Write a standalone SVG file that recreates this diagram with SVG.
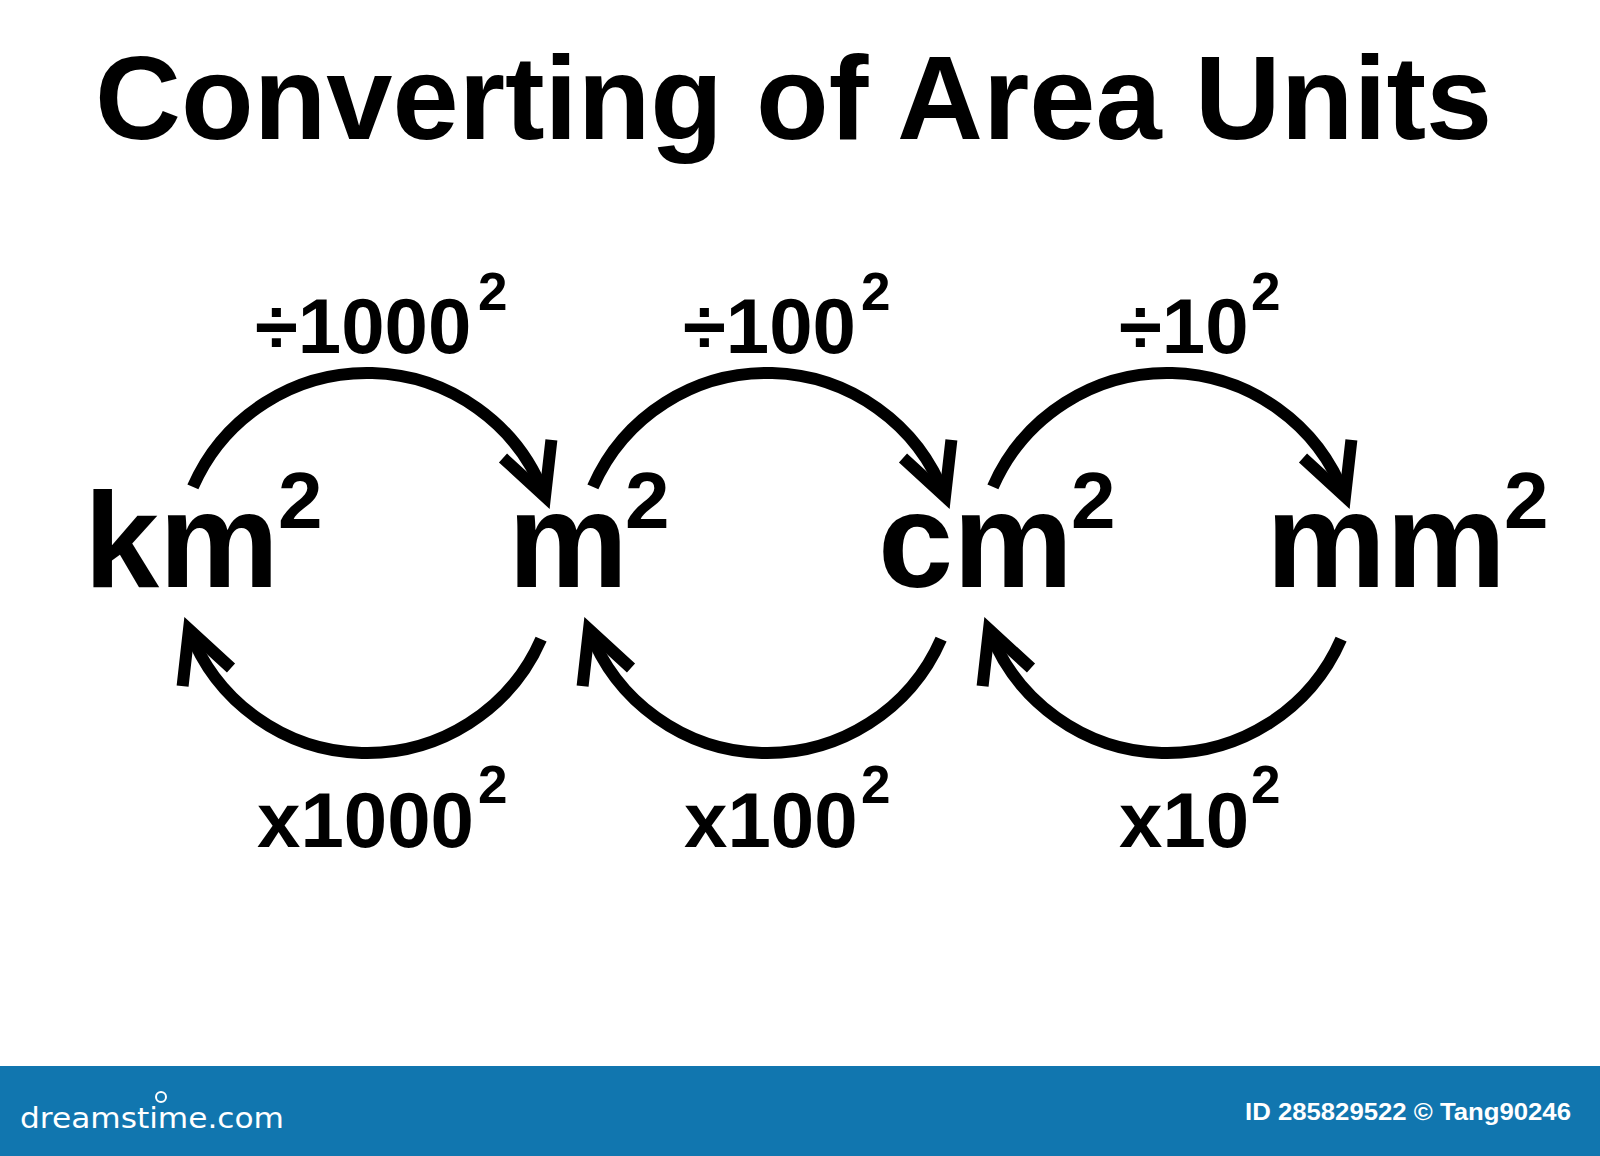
<svg xmlns="http://www.w3.org/2000/svg" width="1600" height="1156" viewBox="0 0 1600 1156">
<style>
.t{font-family:"Liberation Sans",Arial,sans-serif;font-weight:bold;fill:#000}
.u{font-size:135px}
.us{font-size:80px}
.l{font-size:78px}
.ls{font-size:53px}
.c{fill:none;stroke:#000;stroke-width:12;stroke-linecap:butt;stroke-linejoin:miter;stroke-miterlimit:10}
</style>
<rect width="1600" height="1156" fill="#fff"/>
<text class="t" x="95" y="139" font-size="119">Converting of Area Units</text>

<g id="node-km2"><text class="t u" x="84" y="587">km</text><text class="t us" x="278" y="528">2</text></g>
<g id="node-m2"><text class="t u" x="508" y="587">m</text><text class="t us" x="625" y="528">2</text></g>
<g id="node-cm2"><text class="t u" x="878" y="587">cm</text><text class="t us" x="1071" y="528">2</text></g>
<g id="node-mm2"><text class="t u" x="1266" y="587">mm</text><text class="t us" x="1504" y="528">2</text></g>

<g id="labels">
<text class="t l" x="255" y="353">÷1000</text><text class="t ls" x="478" y="310">2</text>
<text class="t l" x="683" y="353">÷100</text><text class="t ls" x="861" y="310">2</text>
<text class="t l" x="1119" y="353">÷10</text><text class="t ls" x="1251" y="310">2</text>
<text class="t l" x="257" y="847">x1000</text><text class="t ls" x="478" y="803">2</text>
<text class="t l" x="684" y="847">x100</text><text class="t ls" x="861" y="803">2</text>
<text class="t l" x="1119" y="847">x10</text><text class="t ls" x="1251" y="803">2</text>
</g>

<g id="connectors">
<g id="pair1">
<path class="c" d="M192.9 486.9 A190 190 0 0 1 545 496.5"/>
<path class="c" d="M551.4 439.8 L545 496.5 L503 458"/>
<path class="c" d="M541.1 639.1 A190 190 0 0 1 189 629.5"/>
<path class="c" d="M182.6 686.2 L189 629.5 L231 668"/>
</g>
<g id="pair2" transform="translate(400,0)">
<path class="c" d="M192.9 486.9 A190 190 0 0 1 545 496.5"/>
<path class="c" d="M551.4 439.8 L545 496.5 L503 458"/>
<path class="c" d="M541.1 639.1 A190 190 0 0 1 189 629.5"/>
<path class="c" d="M182.6 686.2 L189 629.5 L231 668"/>
</g>
<g id="pair3" transform="translate(800,0)">
<path class="c" d="M192.9 486.9 A190 190 0 0 1 545 496.5"/>
<path class="c" d="M551.4 439.8 L545 496.5 L503 458"/>
<path class="c" d="M541.1 639.1 A190 190 0 0 1 189 629.5"/>
<path class="c" d="M182.6 686.2 L189 629.5 L231 668"/>
</g>
</g>

<g id="footer">
<rect x="0" y="1066" width="1600" height="90" fill="#1176AF"/>
<circle cx="161" cy="1097" r="5" fill="none" stroke="#fff" stroke-width="2"/>
<text x="20" y="1128" font-family="'DejaVu Sans',sans-serif" font-size="29" fill="#fff" textLength="264" lengthAdjust="spacingAndGlyphs">dreamstime.com</text>
<text x="1245" y="1120" font-family="'Liberation Sans',Arial,sans-serif" font-weight="bold" font-size="24" fill="#fff" textLength="326" lengthAdjust="spacingAndGlyphs">ID 285829522 © Tang90246</text>
</g>
</svg>
